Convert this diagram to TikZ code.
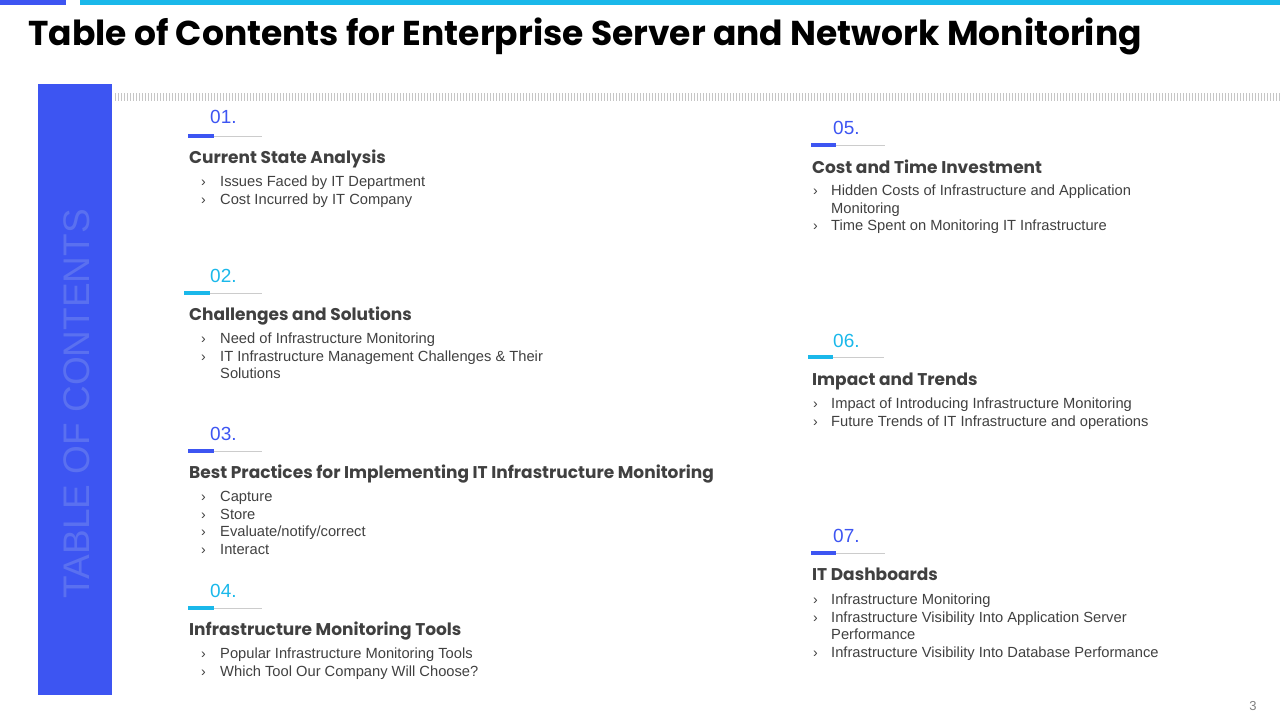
\documentclass[tikz,border=0pt]{standalone}
\usepackage{fontspec}
\setmainfont{Liberation Sans}
\newfontfamily\pop{Poppins}
\definecolor{tblue}{HTML}{3D55F2}
\definecolor{tcyan}{HTML}{1AB8EA}
\definecolor{ttxt}{HTML}{404040}
\definecolor{vtxt}{HTML}{5A70F0}
\tikzset{
 every node/.style={inner sep=0pt},
 num/.style={anchor=base west,font=\fontsize{19}{22}\selectfont},
 head/.style={anchor=base west,text=ttxt,font=\pop\fontsize{17}{20}\selectfont\bfseries},
 item/.style={anchor=base west,text=ttxt,font=\fontsize{14.7}{17.5}\selectfont,align=left},
 bul/.style={anchor=base west,text=ttxt,font=\fontsize{14}{17}\selectfont},
}
\begin{document}
\begin{tikzpicture}[x=1pt,y=-1pt]
\useasboundingbox (0,0) rectangle (1280,720);
\fill[tblue] (0,0) rectangle (66,5);
\fill[tcyan] (80,0) rectangle (1280,5);
\node[anchor=base west,font=\pop\bfseries\fontsize{34.5}{36}\selectfont] (title) at (28,45) {Table of Contents for Enterprise Server and Network Monitoring};
\fill[tblue] (38,84) rectangle (112,695);
\node[rotate=90,text=vtxt,font=\fontsize{37}{40}\selectfont] (vt) at (77,404) {TABLE OF CONTENTS};
\draw[gray!45,line width=8,dash pattern=on 0.8 off 2.2] (115,97) -- (1280,97);
\node[text=gray,font=\fontsize{13}{14}\selectfont] (pg) at (1253,706) {3};
% 01
\node[num,text=tblue] (n1) at (210,123) {01.};
\draw[gray!40,line width=0.6] (188,136) -- (262,136);
\draw[tblue,line width=3.5] (188,136) -- (214,136);
\node[head] (h1) at (189,163) {Current State Analysis};
\node[bul] at (201,186) {›}; \node[item] at (220,186) {Issues Faced by IT Department};
\node[bul] at (201,204) {›}; \node[item] at (220,204) {Cost Incurred by IT Company};
% 02
\node[num,text=tcyan] (n2) at (210,282) {02.};
\draw[gray!40,line width=0.6] (184,293) -- (262,293);
\draw[tcyan,line width=3.5] (184,293) -- (210,293);
\node[head] (h2) at (189,320) {Challenges and Solutions};
\node[bul] at (201,343) {›}; \node[item] at (220,343) {Need of Infrastructure Monitoring};
\node[bul] at (201,361) {›}; \node[item] at (220,361) {IT Infrastructure Management Challenges \& Their};
\node[item] at (220,378) {Solutions};
% 03
\node[num,text=tblue] (n3) at (210,440) {03.};
\draw[gray!40,line width=0.6] (188,451) -- (262,451);
\draw[tblue,line width=3.5] (188,451) -- (214,451);
\node[head] (h3) at (189,478) {Best Practices for Implementing IT Infrastructure Monitoring};
\node[bul] at (201,501) {›}; \node[item] at (220,501) {Capture};
\node[bul] at (201,519) {›}; \node[item] at (220,519) {Store};
\node[bul] at (201,536) {›}; \node[item] at (220,536) {Evaluate/notify/correct};
\node[bul] at (201,554) {›}; \node[item] at (220,554) {Interact};
% 04
\node[num,text=tcyan] (n4) at (210,597) {04.};
\draw[gray!40,line width=0.6] (188,608) -- (262,608);
\draw[tcyan,line width=3.5] (188,608) -- (214,608);
\node[head] (h4) at (189,635) {Infrastructure Monitoring Tools};
\node[bul] at (201,658) {›}; \node[item] at (220,658) {Popular Infrastructure Monitoring Tools};
\node[bul] at (201,676) {›}; \node[item] at (220,676) {Which Tool Our Company Will Choose?};
% 05
\node[num,text=tblue] (n5) at (833,134) {05.};
\draw[gray!40,line width=0.6] (811,145) -- (885,145);
\draw[tblue,line width=3.5] (811,145) -- (836,145);
\node[head] (h5) at (812,173) {Cost and Time Investment};
\node[bul] at (813,195) {›}; \node[item] at (831,195) {Hidden Costs of Infrastructure and Application};
\node[item] at (831,213) {Monitoring};
\node[bul] at (813,230) {›}; \node[item] at (831,230) {Time Spent on Monitoring IT Infrastructure};
% 06
\node[num,text=tcyan] (n6) at (833,347) {06.};
\draw[gray!40,line width=0.6] (808,357) -- (884,357);
\draw[tcyan,line width=3.5] (808,357) -- (833,357);
\node[head] (h6) at (812,385) {Impact and Trends};
\node[bul] at (813,408) {›}; \node[item] at (831,408) {Impact of Introducing Infrastructure Monitoring};
\node[bul] at (813,426) {›}; \node[item] at (831,426) {Future Trends of IT Infrastructure and operations};
% 07
\node[num,text=tblue] (n7) at (833,542) {07.};
\draw[gray!40,line width=0.6] (811,553) -- (885,553);
\draw[tblue,line width=3.5] (811,553) -- (836,553);
\node[head] (h7) at (812,580) {IT Dashboards};
\node[bul] at (813,604) {›}; \node[item] at (831,604) {Infrastructure Monitoring};
\node[bul] at (813,622) {›}; \node[item] at (831,622) {Infrastructure Visibility Into Application Server};
\node[item] at (831,639) {Performance};
\node[bul] at (813,657) {›}; \node[item] at (831,657) {Infrastructure Visibility Into Database Performance};
\end{tikzpicture}
\end{document}
